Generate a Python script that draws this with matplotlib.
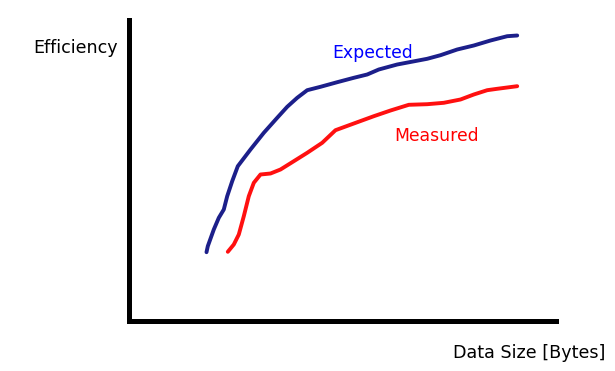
import matplotlib
matplotlib.use('Agg')
import matplotlib.pyplot as plt

# Hand-drawn sketch values (arbitrary units, axis spans 0..428 x 0..301)
expected_x = [78, 79.3, 85.3, 90.3, 95.3, 98.7, 103.7, 109.3, 122, 135.3, 148.7, 158.7,
              168.7, 178.7, 192, 208.7, 225.3, 238.7, 250.3, 268.7, 298.7, 312, 328.7,
              345.3, 362, 378.7, 388.7]
expected_y = [68.3, 74.3, 91, 102.7, 111, 124.3, 139.3, 154.3, 171, 187.7, 202.7, 213.7,
              222.7, 230.3, 233.7, 238.3, 242.7, 246, 251, 256, 261.7, 265.3, 271,
              275, 280, 284.3, 285]

measured_x = [99.3, 105.3, 110.3, 115.3, 120.3, 125.3, 132, 142, 152, 165.3, 178.7, 193.7,
              207, 225.3, 245.3, 262, 280.3, 298.7, 315.3, 332, 345.3, 358.7, 368.7, 388.7]
measured_y = [68.7, 76, 86, 104.3, 124.3, 137.7, 146, 147, 151, 159.3, 167.7, 177.7,
              190.3, 197, 204.3, 210, 215.7, 216.3, 217.7, 221, 226, 230.3, 231.7, 234.3]

W, H = 615, 371
fig = plt.figure(figsize=(W / 100, H / 100), dpi=100)
ax = fig.add_axes([128.5 / W, (H - 320.5) / H, (556 - 128.5) / W, (320.5 - 20) / H])

ax.plot(expected_x, expected_y, color='#1c1f8a', linewidth=2.8, solid_capstyle='round')
ax.plot(measured_x, measured_y, color='#ff1010', linewidth=2.8, solid_capstyle='round')

ax.set_xlim(0, 427.5)
ax.set_ylim(0, 300.5)
ax.set_xticks([])
ax.set_yticks([])
for side in ['top', 'right']:
    ax.spines[side].set_visible(False)
for side in ['left', 'bottom']:
    ax.spines[side].set_linewidth(3.6)
    ax.spines[side].set_color('black')
    ax.spines[side].set_capstyle('projecting')

ax.text(244.3, 267.7, 'Expected', color='#0000ff', fontsize=12.4, ha='center', va='center')
ax.text(308, 184.3, 'Measured', color='#ff0000', fontsize=12.4, ha='center', va='center')

fig.text(33 / W, 1 - 48 / H, 'Efficiency', fontsize=12.6, ha='left', va='center')
fig.text(453 / W, 1 - 353 / H, 'Data Size [Bytes]', fontsize=12.6, ha='left', va='center')

fig.savefig('out.png', dpi=100)
